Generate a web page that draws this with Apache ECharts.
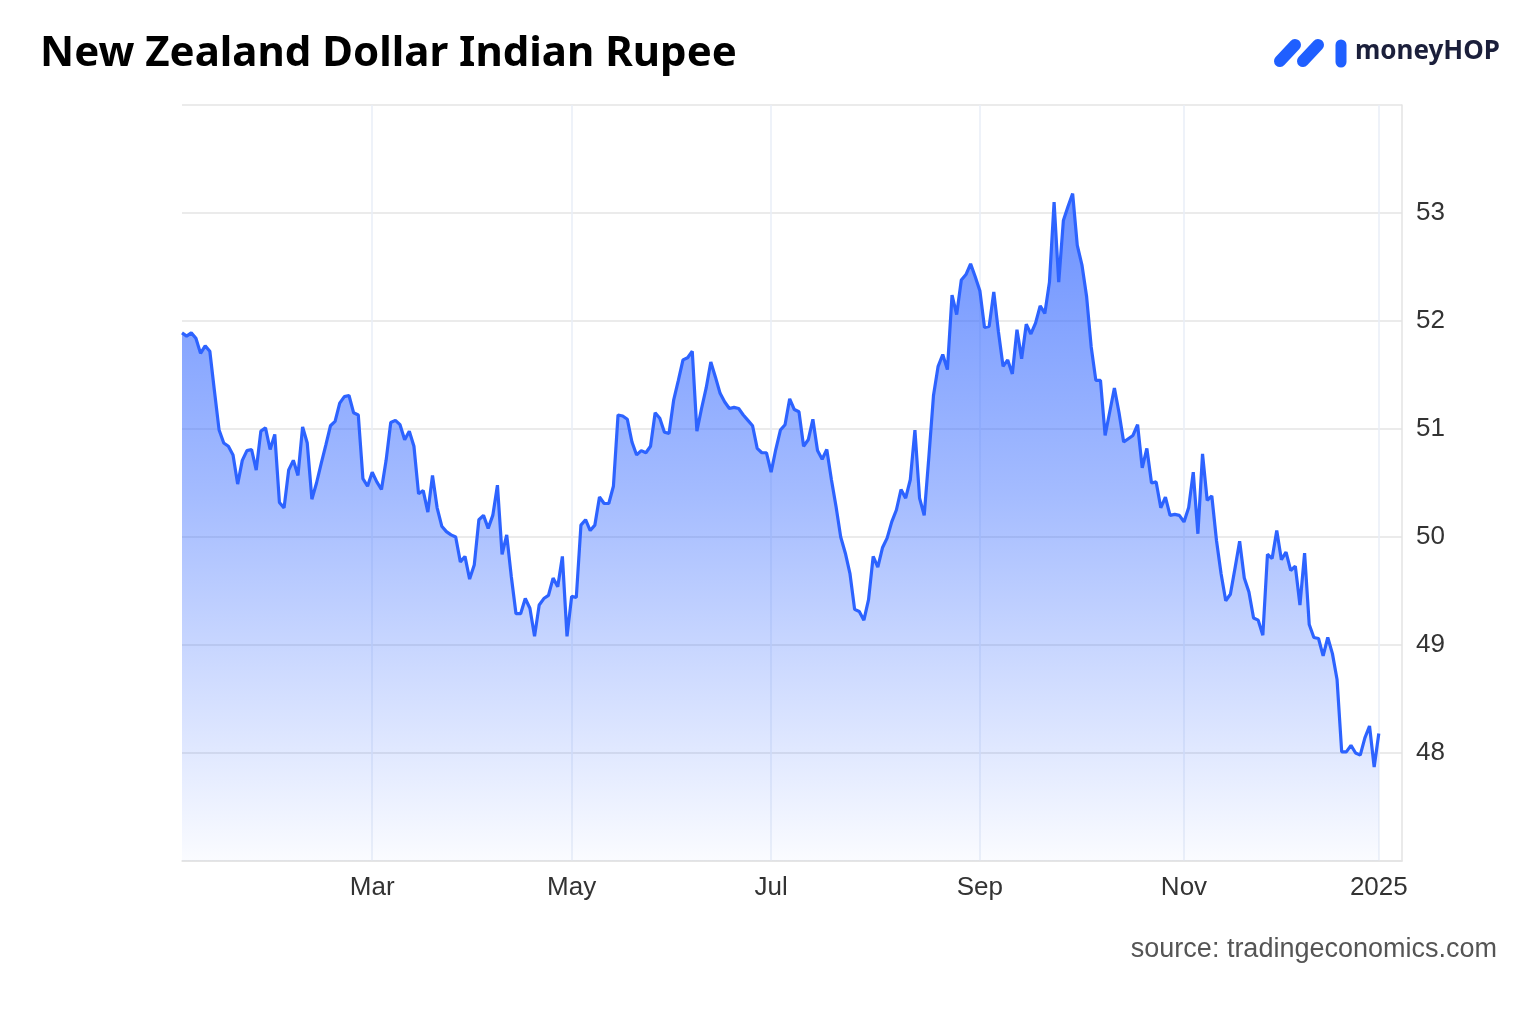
<!DOCTYPE html>
<html>
<head>
<meta charset="utf-8">
<title>New Zealand Dollar Indian Rupee</title>
<script src="https://cdn.jsdelivr.net/npm/echarts@6/dist/echarts.min.js"></script>
<style>
  html, body { margin: 0; padding: 0; background: #fff; }
  #main { width: 1536px; height: 1018px; }
</style>
</head>
<body>
<div id="main"></div>
<script>
// 数据：NZD/INR 日线（工作日），从 2024-01-04 开始
var startDate = '2024-01-04';
var holidays = ['2024-12-25', '2025-01-01'];
var categoryCount = 264;

var rates = [
  51.89, 51.86, 51.89, 51.84, 51.70, 51.77, 51.72, 51.35, 50.99, 50.87,
  50.84, 50.76, 50.49, 50.71, 50.80, 50.81, 50.62, 50.98, 51.01, 50.81,
  50.95, 50.32, 50.27, 50.62, 50.71, 50.57, 51.02, 50.87, 50.35, 50.50,
  50.68, 50.85, 51.03, 51.07, 51.24, 51.30, 51.31, 51.15, 51.13, 50.54,
  50.47, 50.60, 50.51, 50.44, 50.71, 51.06, 51.08, 51.04, 50.90, 50.98,
  50.84, 50.40, 50.43, 50.23, 50.57, 50.27, 50.10, 50.05, 50.02, 50.00,
  49.77, 49.82, 49.61, 49.74, 50.16, 50.20, 50.08, 50.20, 50.48, 49.84,
  50.02, 49.63, 49.29, 49.29, 49.43, 49.34, 49.08, 49.37, 49.43, 49.46,
  49.62, 49.54, 49.82, 49.08, 49.45, 49.44, 50.11, 50.16, 50.06, 50.11,
  50.37, 50.31, 50.31, 50.47, 51.13, 51.12, 51.09, 50.88, 50.76, 50.80,
  50.78, 50.84, 51.15, 51.10, 50.97, 50.96, 51.27, 51.45, 51.64, 51.66,
  51.72, 50.98, 51.19, 51.38, 51.62, 51.48, 51.33, 51.25, 51.19, 51.20,
  51.19, 51.13, 51.08, 51.03, 50.82, 50.78, 50.78, 50.60, 50.81, 50.99,
  51.04, 51.28, 51.18, 51.16, 50.84, 50.90, 51.09, 50.80, 50.72, 50.81,
  50.53, 50.28, 50.00, 49.85, 49.66, 49.33, 49.31, 49.23, 49.42, 49.82,
  49.72, 49.90, 49.99, 50.14, 50.25, 50.44, 50.36, 50.53, 50.99, 50.36,
  50.20, 50.74, 51.31, 51.58, 51.69, 51.55, 52.24, 52.06, 52.38, 52.43,
  52.53, 52.41, 52.28, 51.94, 51.95, 52.27, 51.90, 51.58, 51.64, 51.51,
  51.92, 51.65, 51.97, 51.88, 51.98, 52.14, 52.07, 52.36, 53.10, 52.36,
  52.93, 53.06, 53.18, 52.70, 52.52, 52.23, 51.76, 51.45, 51.45, 50.94,
  51.16, 51.38, 51.15, 50.88, 50.91, 50.94, 51.04, 50.64, 50.82, 50.50,
  50.51, 50.27, 50.37, 50.20, 50.21, 50.20, 50.14, 50.27, 50.60, 50.03,
  50.77, 50.34, 50.38, 49.97, 49.66, 49.41, 49.47, 49.71, 49.96, 49.62,
  49.49, 49.25, 49.23, 49.09, 49.84, 49.80, 50.06, 49.79, 49.86, 49.69,
  49.73, 49.37, 49.85, 49.19, 49.07, 49.06, 48.90, 49.07, 48.92, 48.68,
  48.01, 48.01, 48.07, 48.00, 47.98, 48.14, 48.25, 47.87, 48.18
];

// x 轴刻度：月份 -> 标签
var tickMonths = ['2024-03', '2024-05', '2024-07', '2024-09', '2024-11', '2025-01'];
var tickLabels = ['Mar', 'May', 'Jul', 'Sep', 'Nov', '2025'];

// 生成工作日类目（跳过周末和假日）
var dates = [];
var d = new Date(startDate + 'T00:00:00Z');
while (dates.length < categoryCount) {
  var s = d.toISOString().slice(0, 10);
  var wd = d.getUTCDay();
  if (wd !== 0 && wd !== 6 && holidays.indexOf(s) < 0) dates.push(s);
  d.setUTCDate(d.getUTCDate() + 1);
}

// 每个刻度月份的第一个交易日
var tickIndex = {};
for (var i = 0; i < dates.length; i++) {
  var m = dates[i].slice(0, 7);
  var k = tickMonths.indexOf(m);
  if (k >= 0 && (i === 0 || dates[i - 1].slice(0, 7) !== m)) tickIndex[i] = tickLabels[k];
}
function isTick(index) { return tickIndex[index] !== undefined; }

var chart = echarts.init(document.getElementById('main'));

var option = {
  backgroundColor: '#ffffff',
  animation: false,
  grid: { left: 182, right: 134, top: 105, bottom: 157 },
  xAxis: {
    type: 'category',
    data: dates,
    boundaryGap: false,
    axisLine: { show: true, lineStyle: { color: '#e3e3e3', width: 1.5 } },
    axisTick: { show: false },
    axisLabel: {
      interval: isTick,
      formatter: function (value, index) { return tickIndex[index] || ''; },
      color: '#333',
      fontSize: 26,
      fontFamily: 'Liberation Sans',
      margin: 14
    },
    splitLine: { show: true, interval: isTick, lineStyle: { color: '#e9eef7', width: 1.5 } }
  },
  yAxis: {
    type: 'value',
    position: 'right',
    min: 47,
    max: 54,
    interval: 1,
    axisLine: { show: true, lineStyle: { color: '#e3e3e3', width: 1.5 } },
    axisTick: { show: false },
    axisLabel: {
      showMinLabel: false,
      showMaxLabel: false,
      color: '#333',
      fontSize: 26,
      fontFamily: 'Liberation Sans',
      margin: 14
    },
    splitLine: { lineStyle: { color: '#e4e4e4', width: 1.5 } }
  },
  series: [
    {
      type: 'line',
      data: rates,
      showSymbol: false,
      lineStyle: { color: '#2d63ff', width: 3.2 },
      areaStyle: {
        color: new echarts.graphic.LinearGradient(0, 0, 0, 1, [
          { offset: 0, color: 'rgba(45,99,255,1)' },
          { offset: 0.45, color: 'rgba(45,99,255,0.62)' },
          { offset: 1, color: 'rgba(45,99,255,0.03)' }
        ])
      }
    }
  ],
  graphic: [
    { // 标题
      type: 'text', left: 40, top: 33,
      style: { text: 'New Zealand Dollar Indian Rupee', fill: '#000', font: 'bold 42px "Noto Sans"' }
    },
    // moneyHOP 标志
    { type: 'line', shape: { x1: 1280, y1: 61, x2: 1295, y2: 45 }, style: { stroke: '#1f5fff', lineWidth: 12, lineCap: 'round' } },
    { type: 'line', shape: { x1: 1303, y1: 61, x2: 1318, y2: 45 }, style: { stroke: '#1f5fff', lineWidth: 12, lineCap: 'round' } },
    { type: 'line', shape: { x1: 1341, y1: 45, x2: 1341, y2: 62 }, style: { stroke: '#1f5fff', lineWidth: 11, lineCap: 'round' } },
    {
      type: 'text', left: 1355, top: 39,
      style: { text: 'moneyHOP', fill: '#1b1f3b', font: 'bold 26px "Noto Sans"' }
    },
    { // 数据来源
      type: 'text', right: 39, top: 936,
      style: { text: 'source: tradingeconomics.com', fill: '#555', font: '27px "Liberation Sans"' }
    }
  ]
};

chart.setOption(option);
</script>
</body>
</html>
